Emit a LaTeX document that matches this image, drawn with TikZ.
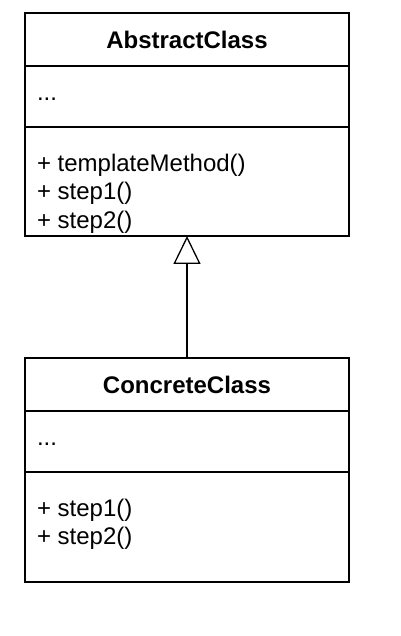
\documentclass[tikz,border=0pt]{standalone}
\usepackage{fontspec}
\setmainfont{Liberation Sans}
\usetikzlibrary{arrows.meta, positioning}

\begin{document}
\begin{tikzpicture}[node distance=122pt, >=Latex,
  every node/.style={font=\fontsize{24}{28.5}\selectfont, outer sep=0pt},
  head/.style={rectangle, draw, line width=1.3pt, minimum width=324pt, minimum height=53pt, font=\fontsize{24}{28.5}\selectfont\bfseries},
  part/.style={rectangle, draw, line width=1.3pt, text width=300pt, inner xsep=12pt, align=left, text height=8pt, text depth=0pt},
  ops/.style={anchor=north west, align=left, inner sep=0pt}]
\useasboundingbox (0,0) rectangle (400pt,636pt);
\node (abs)      [head] at (187pt,596.5pt) {AbstractClass};
\node (absattr)  [part, below=0pt of abs, minimum height=61pt] {...};
\node (absops)   [part, below=0pt of absattr, minimum height=109pt] {};
\node (absm)     [ops] at ([shift={(12pt,-27pt)}]absops.north west) {+ templateMethod()\\+ step1()\\+ step2()};

\node (conc)     [head, below=of absops] {ConcreteClass};
\node (concattr) [part, below=0pt of conc, minimum height=61pt] {...};
\node (concops)  [part, below=0pt of concattr, minimum height=110pt] {};
\node (concm)    [ops] at ([shift={(12pt,-27pt)}]concops.north west) {+ step1()\\+ step2()};

\draw[-{Triangle[open, length=28pt, width=27pt]}, line width=1.3pt] (conc) -- (absops);
\end{tikzpicture}
\end{document}
